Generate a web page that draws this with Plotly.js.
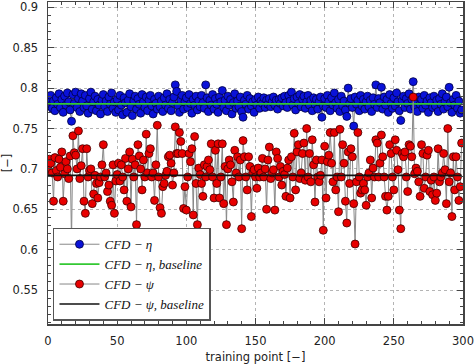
<!DOCTYPE html>
<html><head><meta charset="utf-8">
<script src="https://cdn.plot.ly/plotly-3.0.1.min.js"></script>
<style>html,body{margin:0;padding:0;background:#fff}#chart{width:474px;height:364px}</style>
</head><body><div id="chart"></div>
<script>
const etaValues = [
0.785,0.778,0.791,0.775,0.784,0.772,0.788,0.780,0.793,0.776,
0.786,0.770,0.790,0.779,0.794,0.783,0.773,0.759,0.792,0.781,
0.795,0.776,0.787,0.771,0.793,0.784,0.776,0.791,0.778,0.769,
0.787,0.795,0.774,0.783,0.790,0.772,0.786,0.779,0.768,0.785,
0.792,0.777,0.784,0.771,0.789,0.780,0.794,0.775,0.783,0.770,
0.786,0.773,0.791,0.779,0.767,0.788,0.782,0.770,0.785,0.793,
0.777,0.766,0.784,0.790,0.774,0.787,0.780,0.769,0.792,0.783,
0.776,0.789,0.772,0.785,0.791,0.778,0.768,0.786,0.781,0.774,
0.790,0.777,0.784,0.771,0.788,0.779,0.793,0.775,0.786,0.772,
0.782,0.789,0.804,0.796,0.778,0.770,0.785,0.791,0.774,0.783,
0.788,0.776,0.792,0.781,0.769,0.786,0.779,0.790,0.773,0.784,
0.777,0.791,0.782,0.775,0.804,0.788,0.771,0.785,0.779,0.792,
0.774,0.787,0.780,0.770,0.789,0.783,0.797,0.776,0.785,0.772,
0.790,0.779,0.786,0.768,0.782,0.793,0.775,0.784,0.777,0.789,
0.771,0.764,0.785,0.780,0.791,0.774,0.787,0.778,0.783,0.770,
0.786,0.779,0.789,0.775,0.784,0.781,0.788,0.776,0.785,0.780,
0.787,0.777,0.783,0.789,0.779,0.785,0.774,0.786,0.781,0.788,
0.778,0.790,0.782,0.776,0.791,0.784,0.795,0.779,0.787,0.773,
0.789,0.781,0.792,0.777,0.786,0.790,0.775,0.783,0.791,0.779,
0.785,0.772,0.788,0.780,0.786,0.774,0.783,0.789,0.764,0.778,
0.787,0.776,0.791,0.783,0.772,0.788,0.779,0.794,0.782,0.775,
0.786,0.771,0.790,0.778,0.784,0.773,0.765,0.800,0.781,0.787,
0.776,0.753,0.789,0.780,0.785,0.772,0.791,0.778,0.786,0.774,
0.783,0.790,0.777,0.785,0.771,0.788,0.780,0.804,0.776,0.787,
0.782,0.801,0.774,0.789,0.779,0.786,0.770,0.792,0.781,0.775,
0.788,0.778,0.794,0.783,0.772,0.760,0.785,0.790,0.776,0.787,
0.781,0.793,0.774,0.786,0.808,0.777,0.784,0.771,0.789,0.780,
0.786,0.775,0.791,0.779,0.784,0.770,0.788,0.782,0.776,0.790,
0.778,0.785,0.771,0.787,0.780,0.793,0.774,0.783,0.789,0.777,
0.801,0.782,0.770,0.786,0.779,0.791,0.775,0.784,0.769,0.773
];
const psiValues = [
0.700,0.712,0.707,0.695,0.660,0.714,0.698,0.690,0.712,0.702,
0.721,0.660,0.694,0.709,0.700,0.688,0.716,0.610,0.741,0.720,
0.717,0.700,0.747,0.688,0.704,0.725,0.660,0.645,0.725,0.690,
0.698,0.700,0.657,0.669,0.692,0.682,0.664,0.683,0.690,0.705,
0.730,0.690,0.695,0.672,0.680,0.660,0.655,0.705,0.645,0.685,
0.693,0.707,0.685,0.705,0.690,0.674,0.713,0.660,0.700,0.721,
0.653,0.712,0.690,0.705,0.631,0.730,0.716,0.700,0.674,0.711,
0.690,0.743,0.695,0.719,0.725,0.690,0.695,0.661,0.705,0.754,
0.690,0.652,0.645,0.678,0.682,0.692,0.697,0.715,0.717,0.707,
0.680,0.695,0.752,0.719,0.719,0.745,0.734,0.719,0.651,0.678,
0.649,0.690,0.719,0.709,0.725,0.643,0.740,0.682,0.631,0.701,
0.693,0.682,0.666,0.705,0.690,0.703,0.711,0.699,0.731,0.690,
0.664,0.723,0.682,0.731,0.664,0.690,0.731,0.657,0.703,0.631,
0.700,0.711,0.705,0.684,0.659,0.723,0.695,0.715,0.690,0.711,
0.626,0.735,0.715,0.690,0.674,0.715,0.703,0.641,0.695,0.699,
0.690,0.676,0.701,0.690,0.695,0.713,0.690,0.700,0.650,0.711,
0.727,0.688,0.695,0.699,0.649,0.721,0.713,0.690,0.703,0.680,
0.697,0.693,0.666,0.701,0.711,0.664,0.715,0.690,0.744,0.674,
0.721,0.730,0.688,0.695,0.719,0.732,0.686,0.750,0.690,0.719,
0.684,0.736,0.705,0.659,0.711,0.690,0.684,0.692,0.711,0.624,
0.728,0.664,0.709,0.717,0.745,0.707,0.684,0.745,0.674,0.690,
0.647,0.749,0.690,0.730,0.707,0.660,0.633,0.721,0.682,0.725,
0.715,0.657,0.607,0.684,0.745,0.690,0.670,0.674,0.682,0.674,
0.655,0.690,0.695,0.711,0.664,0.701,0.690,0.736,0.732,0.690,
0.707,0.742,0.715,0.690,0.666,0.649,0.666,0.730,0.719,0.690,
0.674,0.736,0.723,0.699,0.649,0.626,0.719,0.715,0.721,0.690,
0.672,0.730,0.728,0.715,0.789,0.694,0.701,0.697,0.684,0.666,
0.730,0.719,0.676,0.690,0.717,0.723,0.672,0.686,0.668,0.690,
0.661,0.670,0.725,0.684,0.690,0.695,0.719,0.699,0.657,0.750,
0.684,0.695,0.641,0.715,0.674,0.715,0.690,0.661,0.678,0.732
];
const etaBaseline = [0.7805];
const psiBaseline = [0.692];
const seriesNames = ['<i>CFD − η</i>', '<i>CFD − η, baseline</i>', '<i>CFD − ψ</i>', '<i>CFD − ψ, baseline</i>'];
const xTitle = 'training point [−]';
const yTitle = '[−]';

const trainingPoint = etaValues.map((_, i) => i);
const xEnds = [trainingPoint[0], trainingPoint[trainingPoint.length - 1]];

const traces = [
  {x: trainingPoint, y: etaValues, name: seriesNames[0], mode: 'lines+markers',
   line: {color: '#888888', width: 1},
   marker: {color: '#0a12d8', size: 8, line: {color: '#000040', width: 0.8}}},
  {x: xEnds, y: [etaBaseline[0], etaBaseline[0]], name: seriesNames[1], mode: 'lines',
   line: {color: '#33c833', width: 1.6}},
  {x: trainingPoint, y: psiValues, name: seriesNames[2], mode: 'lines+markers',
   line: {color: '#888888', width: 1},
   marker: {color: '#e80000', size: 8, line: {color: '#400000', width: 0.8}}},
  {x: xEnds, y: [psiBaseline[0], psiBaseline[0]], name: seriesNames[3], mode: 'lines',
   line: {color: '#111111', width: 1.6}}
];

const tickFont = {family: 'DejaVu Sans', size: 11.5, color: '#222'};
const axisCommon = {
  showline: true, linecolor: '#444', linewidth: 1.5, mirror: 'ticks',
  ticks: 'inside', ticklen: 6, tickcolor: '#444', tickwidth: 1,
  showgrid: true, gridcolor: '#b4b4b4', griddash: 'dot', gridwidth: 1,
  zeroline: false, tickfont: tickFont
};

const layout = {
  width: 474, height: 364,
  margin: {l: 48, r: 11, t: 2, b: 40},
  paper_bgcolor: '#fff', plot_bgcolor: '#fff',
  showlegend: true,
  xaxis: Object.assign({}, axisCommon, {
    range: [0, 300], tick0: 0, dtick: 50,
    minor: {dtick: 10, ticks: 'inside', ticklen: 3, tickcolor: '#444', showgrid: false},
    ticklabelstandoff: 6,
    title: {text: xTitle, font: {family: 'DejaVu Sans', size: 11.5, color: '#222'}, standoff: 6}
  }),
  yaxis: Object.assign({}, axisCommon, {
    range: [0.508, 0.9066], tick0: 0.5, dtick: 0.05,
    minor: {dtick: 0.01, ticks: 'inside', ticklen: 3, tickcolor: '#444', showgrid: false},
    ticklabelstandoff: 6,
    title: {text: yTitle, font: {family: 'DejaVu Sans', size: 11.5, color: '#222'}, standoff: 10}
  }),
  legend: {
    x: 0.012, y: 0.01, xanchor: 'left', yanchor: 'bottom',
    bgcolor: '#fff', bordercolor: '#555', borderwidth: 1.5,
    font: {family: 'Liberation Serif', size: 13, color: '#111'},
    itemwidth: 40, tracegroupgap: 0
  }
};

Plotly.newPlot('chart', traces, layout, {displayModeBar: false, staticPlot: true});
</script>
</body></html>
